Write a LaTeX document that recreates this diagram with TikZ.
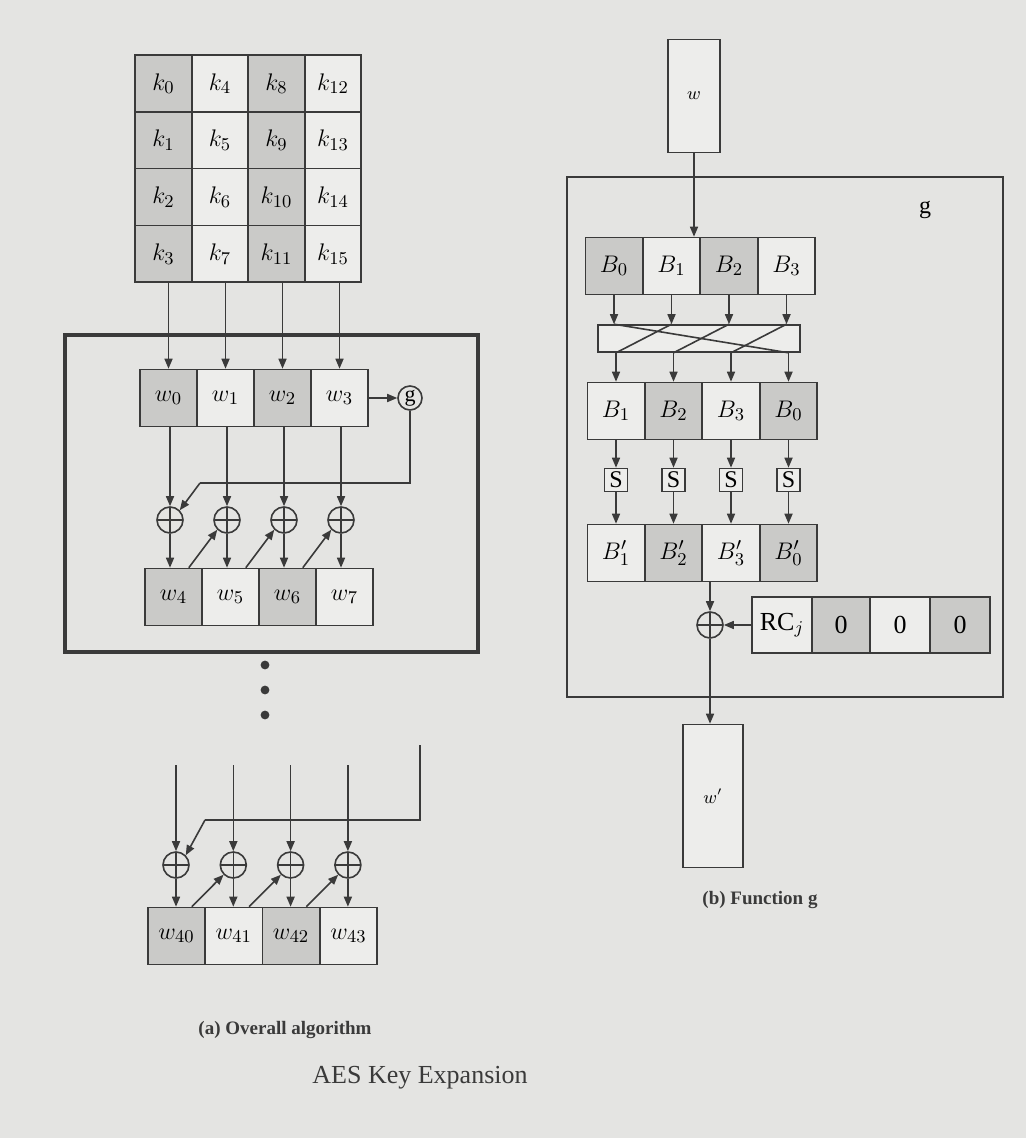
\documentclass[tikz,border=0pt]{standalone}
\usepackage{fontspec}
\setmainfont{Liberation Serif}
\usetikzlibrary{arrows.meta}
\definecolor{bg}{HTML}{E4E4E2}
\definecolor{lite}{HTML}{EDEDEB}
\definecolor{dark}{HTML}{CACAC8}
\definecolor{ink}{HTML}{3A3A3A}
\tikzset{
 cell/.style={draw=ink,line width=0.8pt,fill=lite,minimum width=#1*0.5pt,minimum height=28.5pt,inner sep=0pt,font=\fontsize{13}{15}\selectfont},
 cell/.default=57,
 gcell/.style={cell=#1,fill=dark},
 gcell/.default=57,
 xorc/.style={circle,draw=ink,line width=0.8pt,minimum size=13pt,inner sep=0pt,path picture={\draw[ink,line width=0.8pt] (path picture bounding box.north)--(path picture bounding box.south) (path picture bounding box.west)--(path picture bounding box.east);}},
 arr/.style={draw=ink,line width=0.8pt,-{Triangle[length=5pt,width=4pt]}},
 ln/.style={draw=ink,line width=0.8pt},
 frame/.style={draw=ink,line width=1.6pt},
}
\begin{document}
\begin{tikzpicture}[x=0.5pt,y=-0.5pt]
\fill[bg] (0,0) rectangle (1026,1138);
\useasboundingbox (0,0) rectangle (1026,1138);
% key matrix
\foreach \r in {0,1,2,3}{
 \foreach \c in {0,1,2,3}{
  \pgfmathtruncatemacro{\k}{4*\c+\r}
  \pgfmathsetmacro{\xx}{163.5+56.5*\c}
  \pgfmathsetmacro{\yy}{83.5+56.8*\r}
  \ifodd\c \node[cell=56.5,minimum height=28.4pt] (k\k) at (\xx,\yy) {$k_{\k}$};
  \else \node[gcell=56.5,minimum height=28.4pt] (k\k) at (\xx,\yy) {$k_{\k}$};\fi
 }}
\draw[frame] (65,335) rectangle (478,652);
% w0..w3
\foreach \i/\s in {0/gcell,1/cell,2/gcell,3/cell}{
 \node[\s] (w\i) at (168.5+57*\i,398) {$w_{\i}$};}
\node[circle,draw=ink,line width=0.8pt,minimum size=12pt,inner sep=0pt,font=\fontsize{11}{12}\selectfont] (g) at (410,398) {g};
\draw[arr] (w3.east) -- (g.west);
\foreach \i in {0,1,2,3}{
 \draw[arr] (w\i.north |- k\the\numexpr 4*\i+3\relax.south) -- (w\i.north);}
% xor row 1
\foreach \i in {0,1,2,3}{
 \node[xorc] (x\i) at (170+57*\i,520) {};
 \draw[arr] (x\i.north |- w\i.south) -- (x\i.north);}
\foreach \i/\s in {4/gcell,5/cell,6/gcell,7/cell}{
 \node[\s] (w\i) at (173.5+57*\i-228,597) {$w_{\i}$};}
\foreach \i in {0,1,2,3}{ \draw[arr] (x\i.south) -- (x\i.south |- w\the\numexpr\i+4\relax.north);}
\coordinate (gt) at (410,483);
\coordinate (gl) at (200,483);
\draw[ln] (g.south) -- (gt) -- (gl);
\draw[arr] (gl) -- (x0.north east);
\foreach \i in {4,5,6}{
 \draw[arr] ([xshift=-7pt]w\i.north east) -- (x\the\numexpr\i-3\relax.south west);}
% dots
\foreach \y in {665,690,715} \fill[ink] (265,\y) circle (2.2pt);
% bottom
\foreach \i in {0,1,2,3}{
 \coordinate (t\i) at (176+57.3*\i,765);
 \node[xorc] (y\i) at (176+57.3*\i,865) {};
 \draw[arr] (t\i) -- (y\i.north);}
\foreach \i/\s in {40/gcell,41/cell,42/gcell,43/cell}{
 \node[\s] (w\i) at (176.5+57.3*\i-2292,936) {$w_{\i}$};}
\foreach \i in {0,1,2,3}{ \draw[arr] (y\i.south) -- (y\i.south |- w\the\numexpr\i+40\relax.north);}
\coordinate (ht) at (420,745);
\coordinate (hc) at (420,820);
\coordinate (hl) at (205,820);
\draw[ln] (ht) -- (hc) -- (hl);
\draw[arr] (hl) -- (y0.north east);
\foreach \i in {40,41,42}{
 \draw[arr] ([xshift=-7pt]w\i.north east) -- (y\the\numexpr\i-39\relax.south west);}
\node[font=\fontsize{9.5}{11}\selectfont\bfseries,text=ink] (capa) at (285,1030) {(a) Overall algorithm};
\node[font=\fontsize{13}{15}\selectfont,text=ink] (title) at (420,1078) {AES Key Expansion};
% ---- right: function g
\node[cell=52,minimum height=56.5pt,font=\fontsize{9}{10}\selectfont] (w) at (694,96) {$w$};
\draw[frame,line width=1.2pt] (567,177) rectangle (1003,697);
\node[font=\fontsize{12}{14}\selectfont] (glab) at (925,210) {g};
\foreach \i/\s in {0/gcell,1/cell,2/gcell,3/cell}{
 \node[\s] (b\i) at (614+57.5*\i,266) {$B_{\i}$};}
\draw[arr] (w.south) -- (w.south |- b1.north);
\node[draw=ink,line width=0.8pt,fill=lite,minimum width=101pt,minimum height=13.5pt,inner sep=0pt] (perm) at (699,338.5) {};
\foreach \i in {0,1,2,3}{\draw[arr] (b\i.south) -- (b\i.south |- perm.north);}
\foreach \i/\n/\s in {0/1/cell,1/2/gcell,2/3/cell,3/0/gcell}{
 \node[\s] (c\i) at (616+57.5*\i,411) {$B_{\n}$};}
\foreach \i in {0,1,2,3}{\draw[arr] (c\i.north |- perm.south) -- (c\i.north);}
\draw[ln] (b0.south |- perm.north) -- (c3.north |- perm.south);
\draw[ln] (b1.south |- perm.north) -- (c0.north |- perm.south);
\draw[ln] (b2.south |- perm.north) -- (c1.north |- perm.south);
\draw[ln] (b3.south |- perm.north) -- (c2.north |- perm.south);
\foreach \i in {0,1,2,3}{
 \node[draw=ink,line width=0.8pt,fill=lite,minimum size=11.5pt,inner sep=0pt,font=\fontsize{12}{13}\selectfont] (s\i) at (616+57.5*\i,480) {S};
 \draw[arr] (c\i.south) -- (s\i.north);}
\foreach \i/\n/\s in {0/1/cell,1/2/gcell,2/3/cell,3/0/gcell}{
 \node[\s] (d\i) at (616+57.5*\i,553) {$B'_{\n}$};
 \draw[arr] (s\i.south) -- (d\i.north);}
\node[xorc] (xr) at (710,625) {};
\draw[arr] (xr.north |- d1.south) -- (xr.north);
\node[cell=60,minimum height=28pt] (rc) at (782,625) {RC$_j$};
\node[gcell=58,minimum height=28pt] (z1) at (841,625) {0};
\node[cell=60,minimum height=28pt] (z2) at (900,625) {0};
\node[gcell=60,minimum height=28pt] (z3) at (960,625) {0};
\draw[arr] (rc.west) -- (xr.east);
\node[cell=60,minimum height=71.5pt,font=\fontsize{9}{10}\selectfont] (wp) at (713,796) {$w'$};
\draw[arr] (xr.south) -- (xr.south |- wp.north);
\node[font=\fontsize{9.5}{11}\selectfont\bfseries,text=ink] (capb) at (760,900) {(b) Function g};
\end{tikzpicture}
\end{document}
